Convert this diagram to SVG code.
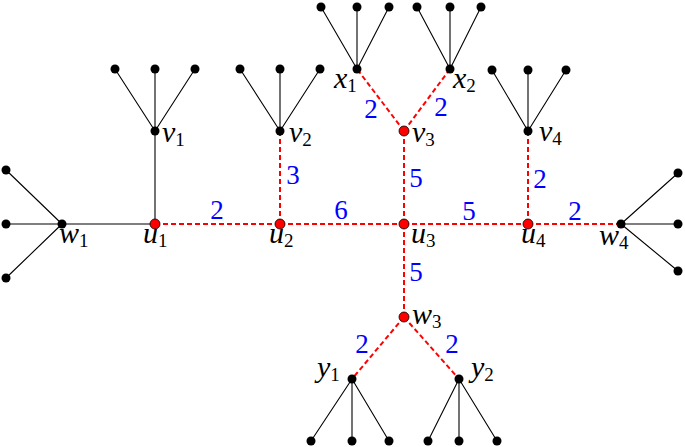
<svg xmlns="http://www.w3.org/2000/svg" width="685" height="447" viewBox="0 0 685 447">
<style>
.b{stroke:#000;stroke-width:1.1;fill:none}
.r{stroke:#ff0000;stroke-width:2;stroke-dasharray:5 3;fill:none}
.dot{fill:#000}
.rdot{fill:#ff0000;stroke:#000;stroke-width:0.8}
.s{font-style:normal;font-size:19px}
</style>
<rect width="685" height="447" fill="#fff"/>
<g id="connectors">
  <path class="b" d="M6,170L62,224M6,224L62,224M6,278L62,224M62,224L155,224M155,224L155,131"/>
  <path class="b" d="M115,69L155,131M155,69L155,131M195,69L155,131"/>
  <path class="b" d="M240,69L280,131M280,69L280,131M320,69L280,131"/>
  <path class="b" d="M321,7L357,69M357,7L357,69M389,7L357,69"/>
  <path class="b" d="M417,7L450,69M450,7L450,69M481,7L450,69"/>
  <path class="b" d="M492,70L528,131M528,70L528,131M566,70L528,131"/>
  <path class="b" d="M678,173L621,224M678,224L621,224M678,271L621,224"/>
  <path class="b" d="M311,441L352,379M352,441L352,379M389,441L352,379"/>
  <path class="b" d="M428,441L459,379M459,441L459,379M497,441L459,379"/>
  <path class="r" d="M155,224L280,224M280,224L404,224M404,224L528,224M528,224L621,224"/>
  <path class="r" d="M280,224L280,131M404,224L404,131M528,224L528,131M404,224L404,317"/>
  <path class="r" d="M404,131L357,69M404,131L450,69M404,317L352,379M404,317L459,379"/>
</g>
<g id="weights" font-family="'Liberation Serif', serif" font-size="27" fill="#0000ff" text-anchor="middle">
  <text x="217" y="219">2</text>
  <text x="341" y="219">6</text>
  <text x="469" y="220">5</text>
  <text x="575" y="220">2</text>
  <text x="293" y="184">3</text>
  <text x="416" y="187">5</text>
  <text x="416" y="281">5</text>
  <text x="540" y="188">2</text>
  <text x="371" y="118">2</text>
  <text x="441" y="116">2</text>
  <text x="362" y="353">2</text>
  <text x="452" y="353">2</text>
</g>
<g id="nodes" font-family="'Liberation Serif', serif" font-size="30" font-style="italic" fill="#000">
<g id="w1"><circle class="dot" cx="62" cy="224" r="4.5"/><text x="59" y="243">w<tspan class="s" dy="4">1</tspan></text></g>
<g id="w1a"><circle class="dot" cx="6" cy="170" r="4.5"/></g>
<g id="w1b"><circle class="dot" cx="6" cy="224" r="4.5"/></g>
<g id="w1c"><circle class="dot" cx="6" cy="278" r="4.5"/></g>
<g id="u1"><circle class="rdot" cx="155" cy="224" r="5"/><text x="143" y="243">u<tspan class="s" dy="4">1</tspan></text></g>
<g id="v1"><circle class="dot" cx="155" cy="131" r="4.5"/><text x="162" y="142">v<tspan class="s" dy="4">1</tspan></text></g>
<g id="v1a"><circle class="dot" cx="115" cy="69" r="4.5"/></g>
<g id="v1b"><circle class="dot" cx="155" cy="69" r="4.5"/></g>
<g id="v1c"><circle class="dot" cx="195" cy="69" r="4.5"/></g>
<g id="u2"><circle class="rdot" cx="280" cy="224" r="5"/><text x="269" y="243">u<tspan class="s" dy="4">2</tspan></text></g>
<g id="v2"><circle class="dot" cx="280" cy="131" r="4.5"/><text x="289" y="142">v<tspan class="s" dy="4">2</tspan></text></g>
<g id="v2a"><circle class="dot" cx="240" cy="69" r="4.5"/></g>
<g id="v2b"><circle class="dot" cx="280" cy="69" r="4.5"/></g>
<g id="v2c"><circle class="dot" cx="320" cy="69" r="4.5"/></g>
<g id="u3"><circle class="rdot" cx="404" cy="224" r="5"/><text x="411" y="243">u<tspan class="s" dy="4">3</tspan></text></g>
<g id="v3"><circle class="rdot" cx="404" cy="131" r="5"/><text x="412" y="142">v<tspan class="s" dy="4">3</tspan></text></g>
<g id="x1"><circle class="dot" cx="357" cy="69" r="4.5"/><text x="334" y="88">x<tspan class="s" dy="4">1</tspan></text></g>
<g id="x1a"><circle class="dot" cx="321" cy="7" r="4.5"/></g>
<g id="x1b"><circle class="dot" cx="357" cy="7" r="4.5"/></g>
<g id="x1c"><circle class="dot" cx="389" cy="7" r="4.5"/></g>
<g id="x2"><circle class="dot" cx="450" cy="69" r="4.5"/><text x="453" y="88">x<tspan class="s" dy="4">2</tspan></text></g>
<g id="x2a"><circle class="dot" cx="417" cy="7" r="4.5"/></g>
<g id="x2b"><circle class="dot" cx="450" cy="7" r="4.5"/></g>
<g id="x2c"><circle class="dot" cx="481" cy="7" r="4.5"/></g>
<g id="u4"><circle class="rdot" cx="528" cy="224" r="5"/><text x="521" y="243">u<tspan class="s" dy="4">4</tspan></text></g>
<g id="v4"><circle class="dot" cx="528" cy="131" r="4.5"/><text x="539" y="141">v<tspan class="s" dy="4">4</tspan></text></g>
<g id="v4a"><circle class="dot" cx="492" cy="70" r="4.5"/></g>
<g id="v4b"><circle class="dot" cx="528" cy="70" r="4.5"/></g>
<g id="v4c"><circle class="dot" cx="566" cy="70" r="4.5"/></g>
<g id="w4"><circle class="dot" cx="621" cy="224" r="4.5"/><text x="599" y="245">w<tspan class="s" dy="4">4</tspan></text></g>
<g id="w4a"><circle class="dot" cx="678" cy="173" r="4.5"/></g>
<g id="w4b"><circle class="dot" cx="678" cy="224" r="4.5"/></g>
<g id="w4c"><circle class="dot" cx="678" cy="271" r="4.5"/></g>
<g id="w3"><circle class="rdot" cx="404" cy="317" r="5"/><text x="412" y="324">w<tspan class="s" dy="4">3</tspan></text></g>
<g id="y1"><circle class="dot" cx="352" cy="379" r="4.5"/><text x="317" y="377">y<tspan class="s" dy="4">1</tspan></text></g>
<g id="y1a"><circle class="dot" cx="311" cy="441" r="4.5"/></g>
<g id="y1b"><circle class="dot" cx="352" cy="441" r="4.5"/></g>
<g id="y1c"><circle class="dot" cx="389" cy="441" r="4.5"/></g>
<g id="y2"><circle class="dot" cx="459" cy="379" r="4.5"/><text x="471" y="377">y<tspan class="s" dy="4">2</tspan></text></g>
<g id="y2a"><circle class="dot" cx="428" cy="441" r="4.5"/></g>
<g id="y2b"><circle class="dot" cx="459" cy="441" r="4.5"/></g>
<g id="y2c"><circle class="dot" cx="497" cy="441" r="4.5"/></g>
</g>
</svg>
